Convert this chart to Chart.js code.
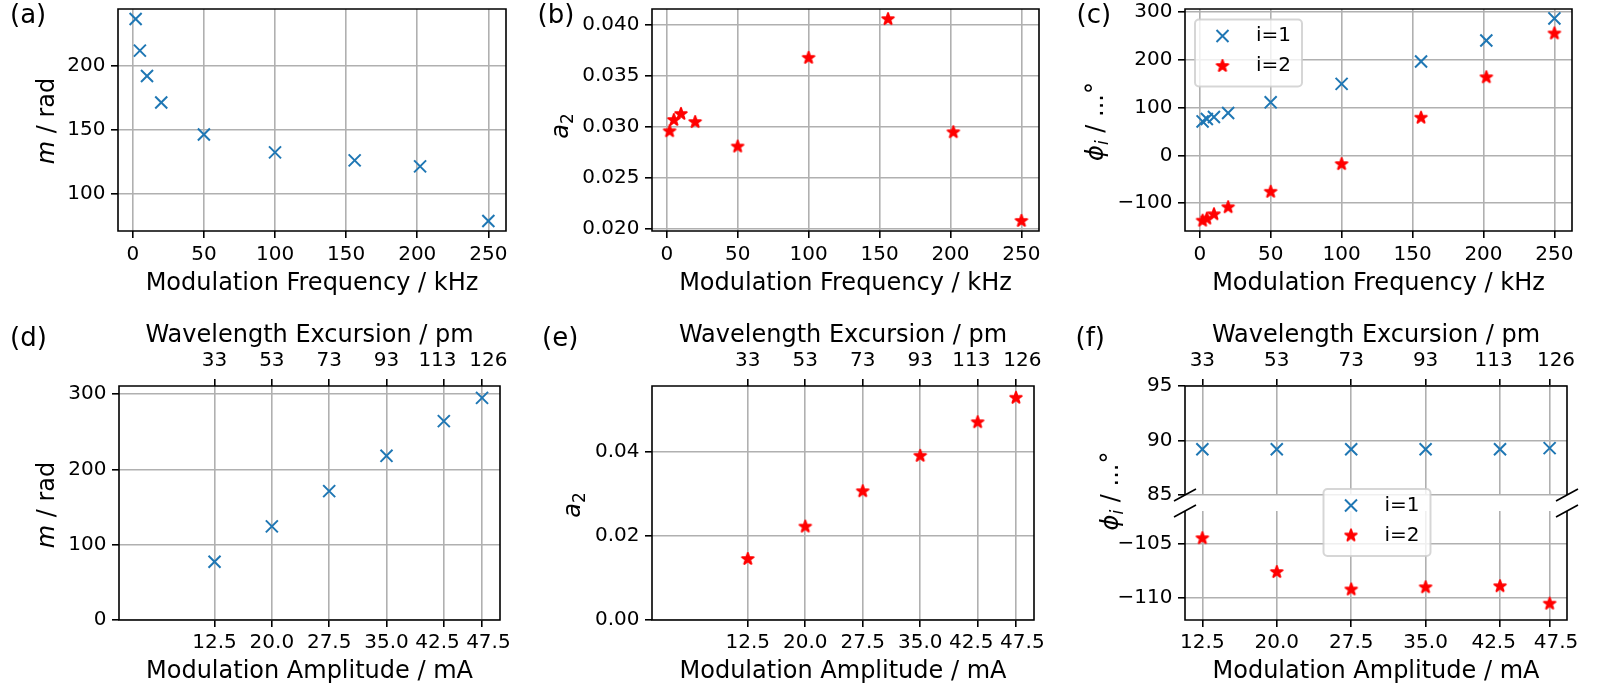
<!DOCTYPE html>
<html><head><meta charset="utf-8">
<script src="https://cdn.jsdelivr.net/npm/chart.js@4.4.1/dist/chart.umd.min.js"></script>
<style>
html,body{margin:0;padding:0;background:#fff;overflow:hidden}
#wrap{position:relative;width:1600px;height:686px;background:#fff}
#wrap canvas{position:absolute;left:0;top:0}
</style></head><body>
<div id="wrap">
<canvas id="pa" width="1600" height="686"></canvas>
<canvas id="pb" width="1600" height="686"></canvas>
<canvas id="pc" width="1600" height="686"></canvas>
<canvas id="pd" width="1600" height="686"></canvas>
<canvas id="pe" width="1600" height="686"></canvas>
<canvas id="pf1" width="1600" height="686"></canvas>
<canvas id="pf2" width="1600" height="686"></canvas>
</div>
<script>
// ---------------- data ----------------
const freqKHz   = [2, 5, 10, 20, 50, 100, 156, 202, 250];
const mFreq     = [237, 212.2, 192.2, 171.4, 146.3, 132.2, 125.9, 121.2, 78.3];
const a2Freq    = [0.0296, 0.0307, 0.0313, 0.0305, 0.0281, 0.0368, 0.0406, 0.0295, 0.0208];
const phi1Freq  = [71.3, 76.3, 80.5, 88.9, 111.2, 149.8, 196.6, 240.6, 286.8];
const phi2Freq  = [-136.3, -132, -123, -108.3, -76, -18, 79, 163.6, 255.3];

const ampMA       = [12.5, 20, 27.5, 35, 42.5, 47.5];
const excursionPm = ['33', '53', '73', '93', '113', '126'];
const mAmp      = [77.4, 124.4, 171.3, 218.2, 264.3, 295.2];
const a2Amp     = [0.0145, 0.0222, 0.0306, 0.0390, 0.0470, 0.0528];
const phi1Amp   = [89.2, 89.2, 89.2, 89.2, 89.2, 89.3];
const phi2Amp   = [-104.5, -107.6, -109.2, -109.0, -108.9, -110.5];

// ---------------- ticks ----------------
const freqTicks        = [0, 50, 100, 150, 200, 250];
const freqTickLabels   = ['0', '50', '100', '150', '200', '250'];
const mFreqTicks       = [100, 150, 200];
const mFreqTickLabels  = ['100', '150', '200'];
const a2FreqTicks      = [0.020, 0.025, 0.030, 0.035, 0.040];
const a2FreqTickLabels = ['0.020', '0.025', '0.030', '0.035', '0.040'];
const phiFreqTicks     = [-100, 0, 100, 200, 300];
const phiFreqTickLabels= ['\u2212100', '0', '100', '200', '300'];
const ampTickLabels    = ['12.5', '20.0', '27.5', '35.0', '42.5', '47.5'];
const ampLabelNudge    = [0, 0, 0, 0, -1, 1];   // last two labels pushed apart
const mAmpTicks        = [0, 100, 200, 300];
const mAmpTickLabels   = ['0', '100', '200', '300'];
const a2AmpTicks       = [0, 0.02, 0.04];
const a2AmpTickLabels  = ['0.00', '0.02', '0.04'];
const phiUpperTicks    = [85, 90, 95];
const phiUpperLabels   = ['85', '90', '95'];
const phiLowerTicks    = [-110, -105];
const phiLowerLabels   = ['\u2212110', '\u2212105'];

// ---------------- styling ----------------
const FONT = 'DejaVu Sans';
const BLUE = '#1f77b4', RED = '#ff0000', GRID = '#b0b0b0';
const TICK_PX = 20, TITLE_PX = 24, SUB_PX = 17;

function starPath(g, cx, cy, R) {
  const r = R * 0.381966;
  g.beginPath();
  for (let k = 0; k < 10; k++) {
    const ang = -Math.PI / 2 + k * Math.PI / 5;
    const rr = (k % 2) ? r : R;
    g.lineTo(cx + rr * Math.cos(ang), cy + rr * Math.sin(ang));
  }
  g.closePath();
}
const STAR = (() => {
  const c = document.createElement('canvas'); c.width = 18; c.height = 18;
  const g = c.getContext('2d');
  starPath(g, 9, 9, 6);
  g.fillStyle = RED; g.fill();
  g.lineWidth = 2; g.lineJoin = 'round'; g.strokeStyle = RED; g.stroke();
  return c;
})();

function pts(xs, ys) { return xs.map((x, i) => ({ x: x, y: ys[i] })); }
function crosses(xs, ys, extra) {
  return Object.assign({ data: pts(xs, ys), pointStyle: 'crossRot', pointRadius: 8.5, pointBorderWidth: 2,
    pointBorderColor: BLUE, pointBackgroundColor: BLUE, borderColor: BLUE, backgroundColor: BLUE, clip: false }, extra || {});
}
function stars(xs, ys, extra) {
  return Object.assign({ data: pts(xs, ys), pointStyle: STAR, pointRadius: 6, pointBorderWidth: 0,
    borderColor: RED, backgroundColor: RED, clip: false }, extra || {});
}

function nudged(labels, nudge) {
  if (!labels) return null;
  return labels.map((s, i) => (nudge && nudge[i] < 0) ? s + '  ' : (nudge && nudge[i] > 0) ? '  ' + s : s);
}

function axis(o) {
  const isX = o.axis === 'x';
  const labels = nudged(o.labels, o.nudge);
  return {
    type: 'linear', axis: o.axis, position: o.position, min: o.min, max: o.max,
    grid: { display: true, drawOnChartArea: o.grid !== false, drawTicks: o.tickMarks !== false, tickLength: 7,
            color: GRID, lineWidth: 1.6, tickColor: '#000', tickWidth: 1.6 },
    border: { display: false },
    ticks: { display: !!labels, autoSkip: false, maxRotation: 0, minRotation: 0, padding: (o.pad == null ? 5.5 : o.pad),
             color: '#000', font: { family: FONT, size: TICK_PX },
             callback: (v, i) => (labels ? labels[i] : '') },
    title: o.title ? { display: true, text: o.title, padding: 0, color: '#000', font: { family: FONT, size: TITLE_PX } } : { display: false },
    afterBuildTicks: s => { s.ticks = o.ticks.map(v => ({ value: v })); },
    afterFit: s => {
      if (isX) s.height = o.size; else s.width = o.size;
      s.paddingLeft = 0; s.paddingRight = 0; s.paddingTop = 0; s.paddingBottom = 0;
    }
  };
}

const decoPlugin = {
  id: 'deco',
  afterDatasetsDraw(chart, args, o) {
    const ctx = chart.ctx, ca = chart.chartArea;
    const L = ca.left, R = ca.right, T = ca.top, B = ca.bottom;
    ctx.save();
    // frame
    ctx.strokeStyle = '#000'; ctx.lineWidth = 1.6; ctx.lineJoin = 'miter';
    ctx.beginPath();
    if (o.frame === 'openBottom') { ctx.moveTo(L, B); ctx.lineTo(L, T); ctx.lineTo(R, T); ctx.lineTo(R, B); }
    else if (o.frame === 'openTop') { ctx.moveTo(L, T); ctx.lineTo(L, B); ctx.lineTo(R, B); ctx.lineTo(R, T); }
    else { ctx.rect(L, T, R - L, B - T); }
    ctx.stroke();
    // break marks
    if (o.breaks) {
      ctx.lineWidth = 1.6; ctx.beginPath();
      o.breaks.forEach(p => { ctx.moveTo(p[0] - 11, p[1] + 6); ctx.lineTo(p[0] + 11, p[1] - 6); });
      ctx.stroke();
    }
    // y title (rich, rotated)
    if (o.ytitle) {
      const yt = o.ytitle;
      ctx.save();
      ctx.translate(yt.x, yt.y); ctx.rotate(-Math.PI / 2);
      ctx.fillStyle = '#000'; ctx.textBaseline = 'alphabetic'; ctx.textAlign = 'left';
      const fontOf = p => (p.it ? 'italic ' : '') + (p.sub ? SUB_PX : TITLE_PX) + 'px "' + FONT + '"';
      let total = 0;
      yt.parts.forEach(p => { ctx.font = fontOf(p); p.w = ctx.measureText(p.t).width; total += p.w; });
      let cx = -total / 2;
      yt.parts.forEach(p => { ctx.font = fontOf(p); ctx.fillText(p.t, cx, p.sub ? 5 : 0); cx += p.w; });
      ctx.restore();
    }
    // panel label
    if (o.label) {
      ctx.fillStyle = '#000'; ctx.font = '26px "' + FONT + '"';
      ctx.textBaseline = 'middle'; ctx.textAlign = 'left';
      ctx.fillText(o.label.t, o.label.x, o.label.y);
    }
    // legend
    if (o.legend) {
      const lg = o.legend, w = 107, h = 67, r = 4;
      ctx.beginPath();
      ctx.moveTo(lg.x + r, lg.y); ctx.lineTo(lg.x + w - r, lg.y); ctx.arcTo(lg.x + w, lg.y, lg.x + w, lg.y + r, r);
      ctx.lineTo(lg.x + w, lg.y + h - r); ctx.arcTo(lg.x + w, lg.y + h, lg.x + w - r, lg.y + h, r);
      ctx.lineTo(lg.x + r, lg.y + h); ctx.arcTo(lg.x, lg.y + h, lg.x, lg.y + h - r, r);
      ctx.lineTo(lg.x, lg.y + r); ctx.arcTo(lg.x, lg.y, lg.x + r, lg.y, r); ctx.closePath();
      ctx.fillStyle = 'rgba(255,255,255,0.8)'; ctx.fill();
      ctx.strokeStyle = 'rgba(204,204,204,0.8)'; ctx.lineWidth = 2; ctx.stroke();
      const mx = lg.x + 27.5, y1 = lg.y + 16.5, y2 = lg.y + 46.5, d = 6;
      ctx.strokeStyle = BLUE; ctx.lineWidth = 2; ctx.beginPath();
      ctx.moveTo(mx - d, y1 - d); ctx.lineTo(mx + d, y1 + d); ctx.moveTo(mx + d, y1 - d); ctx.lineTo(mx - d, y1 + d);
      ctx.stroke();
      ctx.drawImage(STAR, mx - 9, y2 - 9);
      ctx.fillStyle = '#000'; ctx.font = TICK_PX + 'px "' + FONT + '"'; ctx.textBaseline = 'middle'; ctx.textAlign = 'left';
      ctx.fillText(lg.labels[0], lg.x + 61, y1);
      ctx.fillText(lg.labels[1], lg.x + 61, y2);
    }
    ctx.restore();
  }
};

function panel(id, cfg) {
  const b = cfg.box;
  return new Chart(document.getElementById(id), {
    type: 'scatter',
    data: { datasets: cfg.datasets },
    options: {
      responsive: false, animation: false, events: [], devicePixelRatio: 1,
      layout: { autoPadding: false, padding: { left: b.l - 80, right: 1600 - b.r, top: b.t - (cfg.topH || 0), bottom: 686 - b.b - (cfg.bottomH || 0) } },
      plugins: { legend: { display: false }, tooltip: { enabled: false }, deco: cfg.deco },
      scales: cfg.scales
    },
    plugins: [decoPlugin]
  });
}

const ROW1_BH = 67.4, ROW2_BH = 66, TOP_H = 64.4;
const FREQ_TITLE = 'Modulation Frequency / kHz';
const AMP_TITLE = 'Modulation Amplitude / mA';
const EXC_TITLE = 'Wavelength Excursion / pm';
const legendLabels = ['i=1', 'i=2'];

// (a)
panel('pa', {
  box: { l: 118, r: 506, t: 9, b: 231 }, bottomH: ROW1_BH,
  datasets: [crosses(freqKHz, mFreq)],
  scales: {
    x: axis({ axis: 'x', position: 'bottom', min: -10.4, max: 262.4, ticks: freqTicks, labels: freqTickLabels, size: ROW1_BH, pad: 4.3, title: FREQ_TITLE }),
    y: axis({ axis: 'y', position: 'left', min: 70.4, max: 244.9, ticks: mFreqTicks, labels: mFreqTickLabels, size: 80 })
  },
  deco: { label: { t: '(a)', x: 10, y: 16.5 }, ytitle: { x: 54, y: 121, parts: [{ t: 'm', it: true }, { t: ' / rad' }] } }
});

// (b)
panel('pb', {
  box: { l: 652, r: 1039, t: 9, b: 231 }, bottomH: ROW1_BH,
  datasets: [stars(freqKHz, a2Freq)],
  scales: {
    x: axis({ axis: 'x', position: 'bottom', min: -10.4, max: 262.4, ticks: freqTicks, labels: freqTickLabels, size: ROW1_BH, pad: 4.3, title: FREQ_TITLE }),
    y: axis({ axis: 'y', position: 'left', min: 0.01981, max: 0.04159, ticks: a2FreqTicks, labels: a2FreqTickLabels, size: 80 })
  },
  deco: { label: { t: '(b)', x: 537.5, y: 16.5 }, ytitle: { x: 568, y: 126, parts: [{ t: 'a', it: true }, { t: '2', sub: true }] } }
});

// (c)
panel('pc', {
  box: { l: 1185, r: 1572, t: 9, b: 231 }, bottomH: ROW1_BH,
  datasets: [crosses(freqKHz, phi1Freq), stars(freqKHz, phi2Freq)],
  scales: {
    x: axis({ axis: 'x', position: 'bottom', min: -10.4, max: 262.4, ticks: freqTicks, labels: freqTickLabels, size: ROW1_BH, pad: 4.3, title: FREQ_TITLE }),
    y: axis({ axis: 'y', position: 'left', min: -158, max: 306.5, ticks: phiFreqTicks, labels: phiFreqTickLabels, size: 80 })
  },
  deco: { label: { t: '(c)', x: 1076.5, y: 16.5 },
          ytitle: { x: 1103, y: 121.5, parts: [{ t: '\u03D5', it: true }, { t: 'i', it: true, sub: true }, { t: ' / ...\u00B0' }] },
          legend: { x: 1195, y: 19.5, labels: legendLabels } }
});

// (d)
panel('pd', {
  box: { l: 119, r: 500, t: 386, b: 620 }, bottomH: ROW2_BH, topH: TOP_H,
  datasets: [crosses(ampMA, mAmp)],
  scales: {
    x: axis({ axis: 'x', position: 'bottom', min: 0, max: 49.85, ticks: ampMA, labels: ampTickLabels, nudge: ampLabelNudge, size: ROW2_BH, pad: 3.8, title: AMP_TITLE }),
    x2: axis({ axis: 'x', position: 'top', min: 0, max: 49.85, ticks: ampMA, labels: excursionPm, nudge: ampLabelNudge, size: TOP_H, pad: 6.5, grid: false, title: EXC_TITLE }),
    y: axis({ axis: 'y', position: 'left', min: 0, max: 311, ticks: mAmpTicks, labels: mAmpTickLabels, size: 80 })
  },
  deco: { label: { t: '(d)', x: 10, y: 339.5 }, ytitle: { x: 54, y: 505, parts: [{ t: 'm', it: true }, { t: ' / rad' }] } }
});

// (e)
panel('pe', {
  box: { l: 652, r: 1034, t: 386, b: 620 }, bottomH: ROW2_BH, topH: TOP_H,
  datasets: [stars(ampMA, a2Amp)],
  scales: {
    x: axis({ axis: 'x', position: 'bottom', min: 0, max: 49.85, ticks: ampMA, labels: ampTickLabels, nudge: ampLabelNudge, size: ROW2_BH, pad: 3.8, title: AMP_TITLE }),
    x2: axis({ axis: 'x', position: 'top', min: 0, max: 49.85, ticks: ampMA, labels: excursionPm, nudge: ampLabelNudge, size: TOP_H, pad: 6.5, grid: false, title: EXC_TITLE }),
    y: axis({ axis: 'y', position: 'left', min: 0, max: 0.0556, ticks: a2AmpTicks, labels: a2AmpTickLabels, size: 80 })
  },
  deco: { label: { t: '(e)', x: 542, y: 339.5 }, ytitle: { x: 580, y: 505, parts: [{ t: 'a', it: true }, { t: '2', sub: true }] } }
});

// (f) upper part of broken axis
panel('pf1', {
  box: { l: 1185, r: 1567, t: 386, b: 495 }, bottomH: 0, topH: TOP_H,
  datasets: [crosses(ampMA, phi1Amp)],
  scales: {
    x: axis({ axis: 'x', position: 'bottom', min: 10.75, max: 49.25, ticks: ampMA, labels: null, size: 0, tickMarks: false }),
    x2: axis({ axis: 'x', position: 'top', min: 10.75, max: 49.25, ticks: ampMA, labels: excursionPm, nudge: ampLabelNudge, size: TOP_H, pad: 6.5, grid: false, title: EXC_TITLE }),
    y: axis({ axis: 'y', position: 'left', min: 85, max: 95, ticks: phiUpperTicks, labels: phiUpperLabels, size: 80 })
  },
  deco: { frame: 'openBottom', label: { t: '(f)', x: 1075.5, y: 339.5 } }
});

// (f) lower part of broken axis
panel('pf2', {
  box: { l: 1185, r: 1567, t: 511, b: 620 }, bottomH: ROW2_BH,
  datasets: [stars(ampMA, phi2Amp)],
  scales: {
    x: axis({ axis: 'x', position: 'bottom', min: 10.75, max: 49.25, ticks: ampMA, labels: ampTickLabels, nudge: ampLabelNudge, size: ROW2_BH, pad: 3.8, title: AMP_TITLE }),
    y: axis({ axis: 'y', position: 'left', min: -112, max: -102, ticks: phiLowerTicks, labels: phiLowerLabels, size: 80 })
  },
  deco: { frame: 'openTop', breaks: [[1185, 495], [1185, 511], [1567, 495], [1567, 511]],
          ytitle: { x: 1118, y: 491, parts: [{ t: '\u03D5', it: true }, { t: 'i', it: true, sub: true }, { t: ' / ...\u00B0' }] },
          legend: { x: 1323.5, y: 489, labels: legendLabels } }
});
</script>
</body></html>
